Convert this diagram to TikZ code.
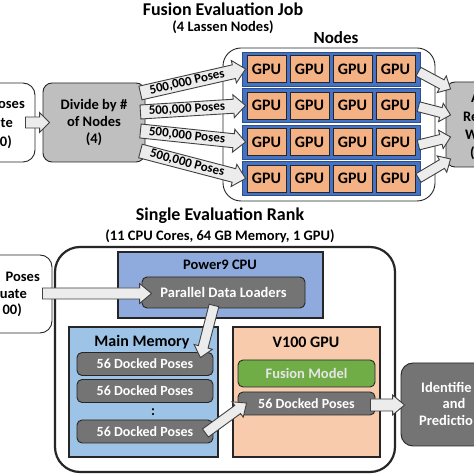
\documentclass[tikz,border=0pt]{standalone}
\usepackage{fontspec}
\setmainfont{Carlito}
\usetikzlibrary{calc}

\definecolor{lineblack}{HTML}{262626}
\definecolor{gpuorange}{HTML}{F4B183}
\definecolor{nodeblue}{HTML}{4472C4}
\definecolor{nodeblueline}{HTML}{2F4F8A}
\definecolor{cpublue}{HTML}{8FAADC}
\definecolor{memblue}{HTML}{9DC3E6}
\definecolor{gpupeach}{HTML}{F8CBAD}
\definecolor{modelgreen}{HTML}{70AD47}
\definecolor{boxgray}{HTML}{BFBFBF}
\definecolor{darkgraybox}{HTML}{747474}
\definecolor{arrowfill}{HTML}{ECECEC}

\tikzset{
  shaft/.store in=\ashaft, spread/.store in=\aspread, headlen/.store in=\aheadlen,
  shaft=6, spread=11, headlen=12,
}
% fat outlined arrow from #2 to #3, label #4 along the shaft
\newcommand{\fatarrow}[4][]{%
  \draw[blockarrow,#1] let \p1=#2, \p2=#3,
      \n1={atan2(\y2-\y1,\x2-\x1)}, \n2={veclen(\x2-\x1,\y2-\y1)-\aheadlen} in
    ($(\p1)+(\n1+90:\ashaft)$) -- ($(\p1)+(\n1:\n2)+(\n1+90:\ashaft)$)
    -- ($(\p1)+(\n1:\n2)+(\n1+90:\aspread)$) -- (\p2)
    -- ($(\p1)+(\n1:\n2)+(\n1-90:\aspread)$) -- ($(\p1)+(\n1:\n2)+(\n1-90:\ashaft)$)
    -- ($(\p1)+(\n1-90:\ashaft)$) -- cycle
    node[arrowtext,rotate=\n1] at ($(\p1)+(\n1:\n2/2)$) {#4};
}

\begin{document}
\begin{tikzpicture}
      [x=1pt,y=1pt,
       title/.style={font=\bfseries\fontsize{18}{21}\selectfont,inner sep=0},
       subtitle/.style={font=\bfseries\fontsize{14.5}{17}\selectfont,inner sep=0},
       unitlabel/.style={font=\bfseries\fontsize{16}{19}\selectfont,inner sep=0},
       frag/.style={font=\bfseries\fontsize{14.5}{17.5}\selectfont,inner sep=0},
       arrowtext/.style={font=\bfseries\fontsize{13}{15}\selectfont,inner sep=0},
       dims/.style 2 args={minimum width=#1pt,minimum height=#2pt,inner sep=0},
       whitebox/.style={rectangle,draw=lineblack,fill=white,rounded corners=12pt,line width=0.9pt},
       graybox/.style={rectangle,draw=lineblack,fill=boxgray,rounded corners=9pt,line width=0.9pt,
         align=center,font=\bfseries\fontsize{14.5}{17}\selectfont},
       darkbox/.style={rectangle,draw=lineblack,fill=darkgraybox,rounded corners=5pt,line width=0.9pt,
         text=white,font=\bfseries\fontsize{14}{17}\selectfont},
       rowbox/.style={rectangle,draw=nodeblueline,fill=nodeblue,line width=0.9pt},
       gpubox/.style={rectangle,draw=black!85,fill=gpuorange,line width=0.9pt,
         font=\bfseries\fontsize{16}{19}\selectfont},
       unitbox/.style={rectangle,draw=lineblack,line width=1.2pt},
       blockarrow/.style={draw=black!75,fill=arrowfill,line width=0.9pt}]
      \useasboundingbox (0,0) rectangle (474,474);
      \clip (0,0) rectangle (474,474);
      \fill[white] (0,0) rectangle (474,474);

      % fusion evaluation job
      \node[title] (jobtitle) at (223,465) {Fusion Evaluation Job};
      \node[subtitle] (jobsub) at (223,447) {(4 Lassen Nodes)};
      \node[title,font=\bfseries\fontsize{17}{20}\selectfont] (nodestitle) at (336,436) {Nodes};
      \node[whitebox,dims={212}{153},rounded corners=18pt] (nodesbox) at (329,349.5) {};
      \node[rowbox,dims={178}{34}] (row1) at (331,405) {};
      \node[rowbox,dims={178}{34}] (row2) at (331,368.5) {};
      \node[rowbox,dims={178}{34}] (row3) at (331,332) {};
      \node[rowbox,dims={178}{34}] (row4) at (331,295.5) {};
      \node[gpubox,dims={39}{27}] (gpu11) at (266.5,405) {GPU};
      \node[gpubox,dims={39}{27}] (gpu12) at (309.5,405) {GPU};
      \node[gpubox,dims={39}{27}] (gpu13) at (352.5,405) {GPU};
      \node[gpubox,dims={39}{27}] (gpu14) at (395.5,405) {GPU};
      \node[gpubox,dims={39}{27}] (gpu21) at (266.5,368.5) {GPU};
      \node[gpubox,dims={39}{27}] (gpu22) at (309.5,368.5) {GPU};
      \node[gpubox,dims={39}{27}] (gpu23) at (352.5,368.5) {GPU};
      \node[gpubox,dims={39}{27}] (gpu24) at (395.5,368.5) {GPU};
      \node[gpubox,dims={39}{27}] (gpu31) at (266.5,332) {GPU};
      \node[gpubox,dims={39}{27}] (gpu32) at (309.5,332) {GPU};
      \node[gpubox,dims={39}{27}] (gpu33) at (352.5,332) {GPU};
      \node[gpubox,dims={39}{27}] (gpu34) at (395.5,332) {GPU};
      \node[gpubox,dims={39}{27}] (gpu41) at (266.5,295.5) {GPU};
      \node[gpubox,dims={39}{27}] (gpu42) at (309.5,295.5) {GPU};
      \node[gpubox,dims={39}{27}] (gpu43) at (352.5,295.5) {GPU};
      \node[gpubox,dims={39}{27}] (gpu44) at (395.5,295.5) {GPU};
      \node[whitebox,dims={105}{79}] (poolbox) at (-17.5,351.5) {};
      \node[frag,anchor=east] (pool1) at (25,369) {oses};
      \node[frag,anchor=east] (pool2) at (13,351) {te};
      \node[frag,anchor=east] (pool3) at (12,332) {0)};
      \node[graybox,dims={102}{79}] (divide) at (94,351.5) {Divide by \#\\of Nodes\\(4)};
      \node[graybox,dims={94}{85}] (gather) at (493,349.5) {};
      \node[frag,anchor=west] (gather1) at (471,376) {A};
      \node[frag,anchor=west] (gather2) at (463,357) {Re};
      \node[frag,anchor=west] (gather3) at (465,339) {W};
      \node[frag,anchor=west] (gather4) at (470,321) {(};
      \fatarrow[shaft=5.5,spread=10,headlen=10]{($(poolbox.east)+(-10,0)$)}{($(divide.west)+(7,0)$)}{}
      \fatarrow[shaft=7,spread=11.5,headlen=12]{($(divide.east)+(-5,29.5)$)}{($(row1.west)+(4,0)$)}{500,000 Poses}
      \fatarrow[shaft=7,spread=11.5,headlen=12]{($(divide.east)+(-5,10.5)$)}{($(row2.west)+(4,0)$)}{500,000 Poses}
      \fatarrow[shaft=7,spread=11.5,headlen=12]{($(divide.east)+(-5,-8.5)$)}{($(row3.west)+(4,0)$)}{500,000 Poses}
      \fatarrow[shaft=7,spread=11.5,headlen=12]{($(divide.east)+(-5,-28.5)$)}{($(row4.west)+(4,0)$)}{500,000 Poses}
      \fatarrow[shaft=5,spread=9.5,headlen=10]{($(row1.east)+(-2,-2.7)$)}{($(gather.west)+(5,35.5)$)}{}
      \fatarrow[shaft=5,spread=9.5,headlen=10]{($(row2.east)+(-2,-1.2)$)}{($(gather.west)+(5,9.5)$)}{}
      \fatarrow[shaft=5,spread=9.5,headlen=10]{($(row3.east)+(-2,-3)$)}{($(gather.west)+(5,-12.5)$)}{}
      \fatarrow[shaft=5,spread=9.5,headlen=10]{($(row4.east)+(-2,0.5)$)}{($(gather.west)+(5,-34.5)$)}{}

      % single evaluation rank
      \node[title] (ranktitle) at (220,258) {Single Evaluation Rank};
      \node[subtitle] (ranksub) at (220,238) {(11 CPU Cores, 64 GB Memory, 1 GPU)};
      \node[whitebox,dims={340}{225},rounded corners=25pt,line width=2.2pt] (rankbox) at (225,114.5) {};
      \node[unitbox,fill=cpublue,dims={205}{66}] (cpu) at (220.5,189) {};
      \node[frag] (cputitle) at (220,209) {Power9 CPU};
      \node[darkbox,dims={163}{31},font=\bfseries\fontsize{14.5}{17}\selectfont] (loaders) at (223.5,181.5) {Parallel Data Loaders};
      \node[whitebox,dims={112}{78}] (subsetbox) at (-4,180) {};
      \node[frag,anchor=east] (subset1) at (40,197) {Poses};
      \node[frag,anchor=east] (subset2) at (27,180) {uate};
      \node[frag,anchor=east] (subset3) at (22,164) {00)};
      \node[unitbox,fill=memblue,dims={149}{130}] (memory) at (143.5,82) {};
      \node[unitlabel] (memtitle) at (142,132) {Main Memory};
      \node[darkbox,dims={136}{23}] (mem1) at (145,110) {56 Docked Poses};
      \node[darkbox,dims={136}{23}] (mem2) at (145,83) {56 Docked Poses};
      \node[frag] (memdots) at (153,62) {:};
      \node[darkbox,dims={136}{23}] (mem3) at (145,42.5) {56 Docked Poses};
      \node[unitbox,fill=gpupeach,dims={147}{130}] (device) at (306.5,82) {};
      \node[unitlabel] (devtitle) at (306,132) {V100 GPU};
      \node[darkbox,fill=modelgreen,text=white!90!black,dims={137}{27},font=\bfseries\fontsize{14.5}{17}\selectfont] (model) at (306.5,100.5) {Fusion Model};
      \node[darkbox,dims={137}{23}] (batch) at (306.5,70.5) {56 Docked Poses};
      \node[darkbox,dims={109}{83},rounded corners=12pt] (hits) at (455.5,69.5) {};
      \node[frag,text=white,anchor=west] (hits1) at (421,87) {Identifie};
      \node[frag,text=white] (hits2) at (454,71) {and};
      \node[frag,text=white,anchor=west] (hits3) at (419,54) {Predictio};
      \fatarrow[shaft=5.5,spread=10,headlen=12]{($(subsetbox.east)+(-10,0.5)$)}{($(loaders.west)+(10,-1)$)}{}
      \fatarrow[shaft=5,spread=9.5,headlen=11]{($(loaders.south)+(-9.5,3)$)}{($(mem1.north east)+(-13,-5.5)$)}{}
      \fatarrow[shaft=5,spread=9.5,headlen=11]{($(mem3.east)+(-8,-1.5)$)}{($(batch.west)+(9,0.5)$)}{}
      \fatarrow[shaft=6,spread=10,headlen=12]{($(batch.east)+(-5,-1.5)$)}{($(hits.west)+(4,-0.5)$)}{}
    \end{tikzpicture}
\end{document}
